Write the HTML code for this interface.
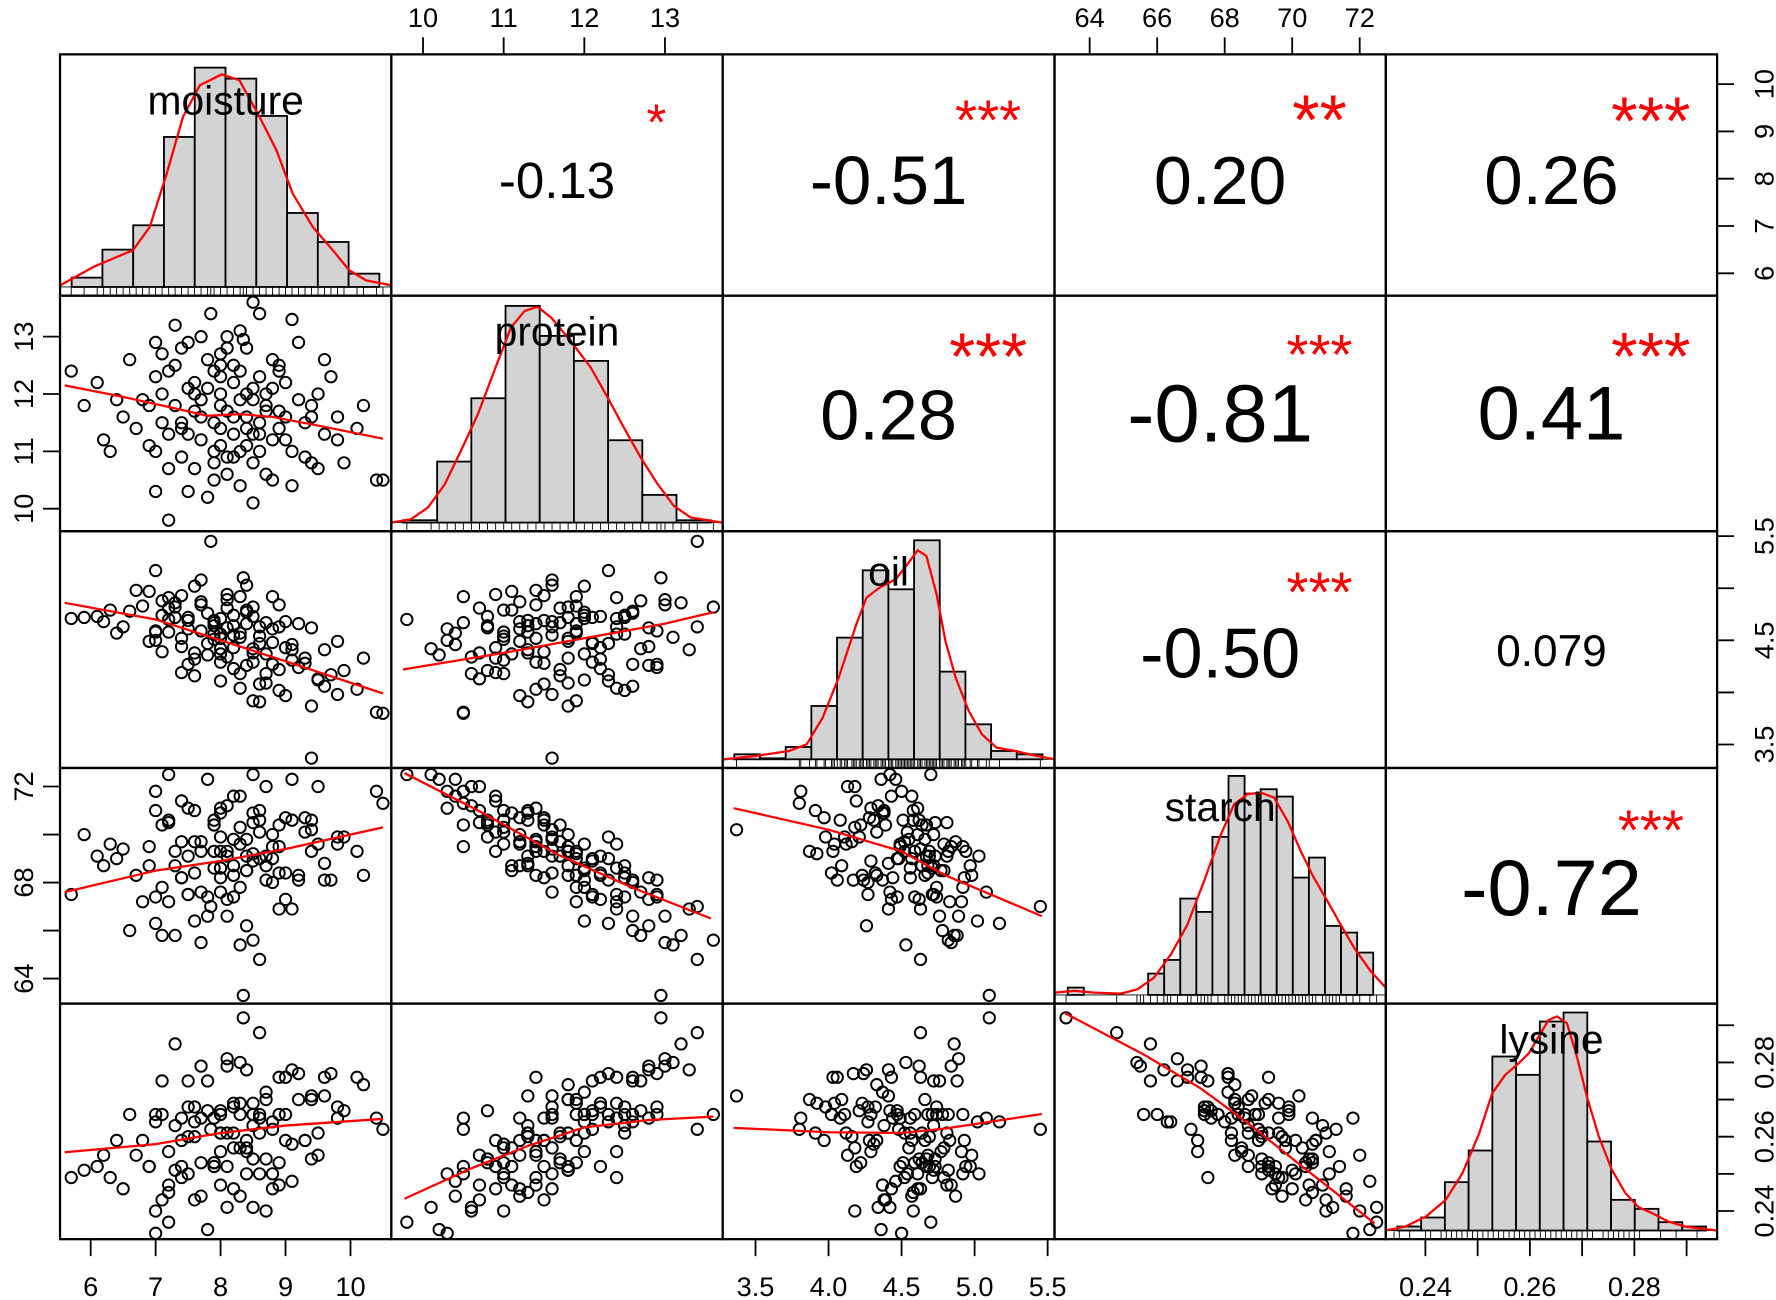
<!DOCTYPE html>
<html><head><meta charset="utf-8"><title>Correlation matrix</title>
<style>html,body{margin:0;padding:0;background:#fff;}svg{display:block;}</style></head>
<body>
<svg id="chart" xmlns="http://www.w3.org/2000/svg" width="1776" height="1300" viewBox="0 0 1568 1147.7" preserveAspectRatio="none" font-family="Liberation Sans, Arial, sans-serif"></svg>
<script>
const varNames=['moisture','protein','oil','starch','lysine'];
const moisture=[8.2,7.5,9.1,6.8,8.8,7.9,8.5,10.1,7.2,8.0,9.5,6.2,8.3,7.7,8.9,7.4,8.6,9.3,5.7,8.1,7.0,8.4,9.8,7.6,8.7,7.3,8.0,9.0,6.5,8.2,7.8,8.5,10.4,7.1,8.8,7.5,9.2,8.1,6.9,8.6,7.9,9.6,7.2,8.3,8.0,9.4,6.1,7.7,8.9,7.4,8.4,9.9,7.0,8.2,8.7,7.6,9.1,6.7,8.0,8.5,7.3,9.7,7.9,8.6,7.1,8.3,9.3,7.8,8.1,6.4,8.8,7.5,9.0,8.4,7.7,8.2,9.5,7.0,8.6,8.0,7.4,9.2,8.5,6.6,8.9,7.6,8.3,10.2,7.9,8.1,7.2,8.7,9.4,7.8,8.4,6.3,8.0,9.0,7.5,8.6,8.2,7.1,9.6,8.8,7.7,8.3,5.9,8.9,7.4,8.1,9.1,7.9,8.5,6.9,8.0,9.8,7.3,8.7,7.6,8.4,8.35,9.4,8.5,10.5,7.2,7.85,7.0];
const protein=[11.6,12.1,11.0,11.9,12.6,10.8,11.3,11.4,12.4,11.8,12.0,11.2,10.4,13.0,11.7,11.5,12.3,10.9,12.4,12.8,11.0,11.1,11.6,12.0,10.6,13.2,11.4,12.2,11.6,12.5,10.2,11.9,10.5,12.7,11.2,11.3,12.9,10.9,11.8,11.5,12.4,11.3,10.7,13.1,11.1,11.8,12.2,11.6,12.5,10.9,12.0,10.8,12.9,11.3,11.7,12.2,10.4,11.4,12.7,10.8,11.8,12.3,11.0,13.4,11.5,11.9,11.5,12.6,10.6,11.9,12.1,10.3,11.2,12.8,11.2,12.2,10.7,12.3,11.0,12.0,12.8,11.9,10.1,12.6,11.4,11.7,12.4,11.8,11.5,13.0,11.3,12.0,10.8,12.1,11.6,11.0,12.3,11.6,12.9,11.3,10.9,12.0,12.6,10.5,11.9,11.0,11.8,12.4,11.4,11.7,13.3,10.5,12.1,11.1,12.5,11.2,12.5,11.8,10.7,11.4,12.95,11.6,13.6,10.5,9.8,13.4,10.3];
const oil=[4.55,4.72,4.31,4.83,4.27,4.64,4.38,4.03,4.91,4.52,4.12,4.68,4.57,4.84,4.22,4.93,4.47,4.33,4.71,4.62,4.58,4.79,3.98,5.02,4.18,4.86,4.29,4.43,4.63,4.74,4.36,3.92,3.81,4.88,4.61,4.69,4.24,4.94,4.49,4.08,4.56,4.41,4.81,4.53,4.37,3.87,4.73,5.08,4.02,4.19,4.77,4.21,4.59,4.64,4.67,4.32,4.46,4.98,4.42,4.73,4.82,4.17,4.51,4.63,4.39,4.92,4.28,4.76,4.34,4.57,4.48,4.61,3.97,4.26,4.87,4.23,4.13,5.17,4.54,4.71,4.44,4.66,4.42,4.78,4.84,4.16,4.04,4.33,4.69,4.89,4.58,4.37,4.62,4.47,5.03,4.79,4.11,4.68,4.27,3.91,4.43,4.74,4.06,4.92,4.59,4.18,4.72,4.63,4.52,4.81,4.41,4.67,4.29,4.97,4.56,4.49,4.72,4.09,4.38,4.66,5.1,3.37,4.82,3.8,4.7,5.45,4.5];
const starch=[69.8,67.5,70.6,67.2,68.0,70.4,70.9,69.3,67.2,69.3,69.6,68.7,71.6,65.5,70.4,68.2,69.0,70.1,67.5,67.3,71.0,68.5,69.9,66.4,72.0,65.8,71.1,67.3,69.4,67.4,72.3,69.2,71.8,65.8,70.0,69.1,68.1,69.3,69.5,70.6,68.6,68.8,70.5,65.4,70.9,69.3,69.1,67.6,68.4,71.4,68.5,69.9,67.4,68.7,69.1,68.4,72.3,68.3,67.6,70.5,69.3,68.1,70.6,64.8,70.4,67.8,70.7,66.6,71.2,69.0,69.0,71.1,70.7,66.2,69.7,68.3,72.0,66.3,70.1,68.6,68.2,68.3,72.5,66.0,69.5,69.7,69.6,68.3,69.3,66.6,70.6,68.1,70.6,67.4,69.1,69.6,69.9,68.4,67.5,71.0,71.6,67.8,68.1,69.5,69.3,70.3,70.0,66.9,69.7,69.1,66.9,70.4,68.9,68.7,68.2,69.6,68.7,68.7,71.0,69.8,63.3,70.2,65.6,71.3,72.5,67.0,71.8];
const lysine=[0.257,0.275,0.258,0.259,0.264,0.253,0.263,0.276,0.256,0.261,0.261,0.255,0.244,0.279,0.253,0.259,0.266,0.259,0.249,0.279,0.240,0.257,0.268,0.264,0.240,0.285,0.256,0.276,0.246,0.268,0.235,0.269,0.265,0.275,0.246,0.260,0.277,0.252,0.252,0.265,0.265,0.271,0.247,0.280,0.247,0.270,0.252,0.265,0.266,0.252,0.256,0.267,0.266,0.261,0.254,0.268,0.248,0.255,0.267,0.254,0.251,0.277,0.253,0.288,0.243,0.266,0.259,0.275,0.241,0.259,0.262,0.250,0.259,0.278,0.244,0.269,0.255,0.264,0.250,0.266,0.265,0.270,0.241,0.266,0.247,0.260,0.269,0.274,0.252,0.281,0.245,0.272,0.254,0.267,0.250,0.249,0.266,0.266,0.268,0.261,0.246,0.266,0.276,0.250,0.253,0.257,0.251,0.276,0.249,0.261,0.278,0.252,0.266,0.252,0.261,0.265,0.263,0.270,0.243,0.259,0.292,0.271,0.266,0.262,0.237,0.262,0.234];
const varLo=[5.528,9.607,3.275,62.958,0.23242];
const varHi=[10.629,13.715,5.547,72.773,0.29584];
const histStart=[5.707,9.751,3.355,63.35,0.23464];
const histWidth=[0.4738,0.4240,0.1758,0.4763,0.004544];
const histMoisture=[28,112,185,450,658,625,513,222,135,40];
const histProtein=[7,183,373,650,560,485,247,83,7];
const histOil=[15,3,37,160,365,567,510,657,263,105,25,15];
const histStarch=[22,0,0,0,0,64,105,289,249,474,657,604,617,595,352,412,207,187,127];
const histLysine=[12,39,145,240,522,467,627,654,267,92,65,25,12];
const densXMoisture=[5.53,6.04,6.40,6.65,6.91,7.17,7.42,7.68,8.02,8.29,8.60,8.86,9.11,9.42,9.73,9.98,10.24,10.63];
const densYMoisture=[5,60,90,110,180,340,510,605,638,620,510,410,280,180,110,50,20,5];
const densXProtein=[9.61,9.85,10.06,10.27,10.47,10.68,10.89,11.09,11.26,11.42,11.59,11.83,12.08,12.29,12.49,12.70,12.91,13.11,13.32,13.71];
const densYProtein=[0,10,45,115,215,325,460,585,635,647,615,545,465,375,285,195,115,50,15,0];
const densXOil=[3.28,3.50,3.73,3.85,3.96,4.07,4.19,4.26,4.35,4.46,4.54,4.61,4.67,4.74,4.80,4.87,4.96,5.05,5.15,5.28,5.37,5.55];
const densYOil=[0,10,25,45,125,245,405,485,515,540,585,627,610,495,355,245,145,75,35,25,15,0];
const densXStarch=[62.96,63.55,64.14,64.93,65.42,65.91,66.41,66.90,67.39,67.89,68.28,68.67,69.07,69.46,69.86,70.25,70.64,71.04,71.43,71.83,72.32,72.77];
const densYStarch=[7,12,7,4,17,52,122,212,342,482,572,602,607,592,522,432,352,282,212,142,72,22];
const densXLysine=[0.2324,0.2362,0.2401,0.2439,0.2471,0.2503,0.2528,0.2553,0.2579,0.2598,0.2617,0.2636,0.2652,0.2671,0.2690,0.2709,0.2732,0.2757,0.2783,0.2808,0.2834,0.2865,0.2897,0.2958];
const densYLysine=[0,12,42,92,172,292,412,467,502,532,582,632,642,622,522,402,282,182,112,70,52,27,12,0];
const smMPx=[5.6,6.5,7.3,7.8,8.3,8.8,9.5,10.5], smMPy=[12.15,11.95,11.75,11.62,11.65,11.6,11.45,11.22];
const smMOx=[5.6,7.0,8.0,9.0,10.5], smMOy=[4.86,4.7,4.5,4.3,3.99];
const smMSx=[5.6,7.0,8.0,9.0,10.5], smMSy=[67.6,68.5,68.9,69.4,70.3];
const smMLx=[5.6,7.0,8.0,9.0,10.5], smMLy=[0.2558,0.2580,0.2610,0.2630,0.2648];
const smPOx=[9.75,11.0,12.0,13.0,13.6], smPOy=[4.22,4.38,4.52,4.66,4.77];
const smPSx=[9.77,10.7,11.67,12.6,13.57], smPSy=[72.56,70.97,69.17,67.78,66.5];
const smPLx=[9.77,10.6,11.3,12.0,12.8,13.6], smPLy=[0.2433,0.2515,0.2575,0.2625,0.2645,0.2654];
const smOSx=[3.35,4.0,4.5,4.8,5.46], smOSy=[71.1,70.2,69.3,68.3,66.6];
const smOLx=[3.35,4.0,4.5,4.8,5.46], smOLy=[0.2624,0.2612,0.2610,0.2622,0.2661];
const smSLx=[63.26,65.61,67.29,68.64,70.32,72.44], smSLy=[0.2933,0.2821,0.2730,0.2640,0.2518,0.2367];
const corrLabels=['-0.13','-0.51','0.20','0.26','0.28','-0.81','0.41','-0.50','0.079','-0.72'];
const corrStars=['*','***','**','***','***','***','***','***','','***'];
const ticksMoisture=[6,7,8,9,10];
const ticksProtein=[10,11,12,13];
const ticksOil=[3.5,4.0,4.5,5.0,5.5];
const labelsOilBottom=['3.5','4.0','4.5','5.0','5.5'];
const labelsOilRight=['3.5','','4.5','','5.5'];
const ticksStarch=[64,66,68,70,72];
const labelsStarchTop=['64','66','68','70','72'];
const labelsStarchLeft=['64','','68','','72'];
const ticksLysine=[0.24,0.25,0.26,0.27,0.28,0.29];
const labelsLysine=['0.24','','0.26','','0.28',''];

const data=[moisture,protein,oil,starch,lysine];
const hists=[histMoisture,histProtein,histOil,histStarch,histLysine];
const densX=[densXMoisture,densXProtein,densXOil,densXStarch,densXLysine];
const densY=[densYMoisture,densYProtein,densYOil,densYStarch,densYLysine];

const colX=[53,345.5,638,931,1223.5,1516];
const rowY=[48,261,469,678,886,1094];
const NS='http://www.w3.org/2000/svg';
const svg=document.getElementById('chart');
function mk(tag,attrs,parent){const e=document.createElementNS(NS,tag);for(const k in attrs)e.setAttribute(k,attrs[k]);(parent||svg).appendChild(e);return e;}
function xs(j,v){return colX[j]+(v-varLo[j])/(varHi[j]-varLo[j])*(colX[j+1]-colX[j]);}
function ys(i,v){return rowY[i+1]-(v-varLo[i])/(varHi[i]-varLo[i])*(rowY[i+1]-rowY[i]);}
const K=1/3.398;

const defs=mk('defs',{});
for(let i=0;i<5;i++)for(let j=0;j<5;j++){
  const cp=mk('clipPath',{id:'c'+i+j},defs);
  mk('rect',{x:colX[j],y:rowY[i],width:colX[j+1]-colX[j],height:rowY[i+1]-rowY[i]},cp);
}

for(let d=0;d<5;d++){
  const g=mk('g',{'clip-path':'url(#c'+d+d+')'});
  
  
  const base=rowY[d+1]-7.65;
  hists[d].forEach((c,k)=>{
    if(c<=0)return;
    const x0=xs(d,histStart[d]+k*histWidth[d]), x1=xs(d,histStart[d]+(k+1)*histWidth[d]);
    const r=mk('rect',{x:x0,y:base-c*K,width:x1-x0,height:c*K,fill:'#d3d3d3',stroke:'#000','stroke-width':1.6},g);
    
    
  });
  let rp='';
  data[d].forEach(v=>{const x=xs(d,v);rp+='M'+x.toFixed(1)+' '+base+'V'+(rowY[d+1]-1);});
  const rug=mk('path',{d:rp,stroke:'#000','stroke-width':0.8,fill:'none'},g);
  
  
  mk('line',{x1:colX[d],x2:colX[d+1],y1:base,y2:base,stroke:'#000','stroke-width':0.8},g);
  const pts=densX[d].map((v,k)=>xs(d,v).toFixed(1)+','+(base-densY[d][k]*K).toFixed(1)).join(' ');
  const dl=mk('polyline',{points:pts,fill:'none',stroke:'#ff0000','stroke-width':2,'stroke-linejoin':'round'},g);
  
  
  const t=mk('text',{x:(colX[d]+colX[d+1])/2,y:[101,305,517,725,930][d],'text-anchor':'middle','font-size':36,fill:'#000'},g);
  t.textContent=varNames[d];
  
  
}

const smooths={'1,0':[smMPx,smMPy],'2,0':[smMOx,smMOy],'3,0':[smMSx,smMSy],'4,0':[smMLx,smMLy],'2,1':[smPOx,smPOy],'3,1':[smPSx,smPSy],'4,1':[smPLx,smPLy],'3,2':[smOSx,smOSy],'4,2':[smOLx,smOLy],'4,3':[smSLx,smSLy]};
for(let i=1;i<5;i++)for(let j=0;j<i;j++){
  const g=mk('g',{'clip-path':'url(#c'+i+j+')'});
  
  
  for(let k=0;k<data[0].length;k++){
    const c=mk('circle',{cx:xs(j,data[j][k]).toFixed(1),cy:ys(i,data[i][k]).toFixed(1),r:5,fill:'none',stroke:'#000','stroke-width':1.7},g);
    
    
  }
  const s=smooths[i+','+j];
  const pts=s[0].map((v,k)=>xs(j,v).toFixed(1)+','+ys(i,s[1][k]).toFixed(1)).join(' ');
  const l=mk('polyline',{points:pts,fill:'none',stroke:'#ff0000','stroke-width':2},g);
  
  
}

const numSize=[45,61,60,61,62,72,67,62,39,70];
const numBase=[175,180,180,180,388,390,388,598,588,808];
const starSize=[45,50,62,60,59,50,60,50,0,50];
const starBase=[123,123,127,127,335,330,335,540,0,750];
let idx=0;
for(let i=0;i<5;i++)for(let j=i+1;j<5;j++){
  const cx=(colX[j]+colX[j+1])/2;
  const t=mk('text',{x:cx,y:numBase[idx],'text-anchor':'middle','font-size':numSize[idx],fill:'#000'});
  t.textContent=corrLabels[idx];
  
  
  if(corrStars[idx]){
    const st=mk('text',{x:colX[j]+0.8*(colX[j+1]-colX[j]),y:starBase[idx],'text-anchor':'middle','font-size':starSize[idx],fill:'#ff0000'});
    st.textContent=corrStars[idx];
    
    
  }
  idx++;
}

for(let i=0;i<5;i++)for(let j=0;j<5;j++){
  const r=mk('rect',{x:colX[j],y:rowY[i],width:colX[j+1]-colX[j],height:rowY[i+1]-rowY[i],fill:'none',stroke:'#000','stroke-width':2});
  
  
}

const TL=15, FS=24;
function axisH(j,ticks,labels,side){
  const g=mk('g',{});
  
  
  const y0=side==='bottom'?rowY[5]:rowY[0], dir=side==='bottom'?1:-1;
  let p='M'+xs(j,ticks[0])+' '+y0+'H'+xs(j,ticks[ticks.length-1]);
  ticks.forEach((v,k)=>{
    const x=xs(j,v);p+='M'+x+' '+y0+'v'+(dir*TL);
    if(labels[k]){const t=mk('text',{x:x,y:side==='bottom'?1144:24,'text-anchor':'middle','font-size':FS,fill:'#000'},g);t.textContent=labels[k];}
  });
  mk('path',{d:p,stroke:'#000','stroke-width':1.6,fill:'none'},g);
}
function axisV(i,ticks,labels,side){
  const g=mk('g',{});
  
  
  const x0=side==='left'?colX[0]:colX[5], dir=side==='left'?-1:1;
  let p='M'+x0+' '+ys(i,ticks[0])+'V'+ys(i,ticks[ticks.length-1]);
  ticks.forEach((v,k)=>{
    const y=ys(i,v);p+='M'+x0+' '+y+'h'+(dir*TL);
    if(labels[k]){const lx=side==='left'?29:1566;const t=mk('text',{x:lx,y:y,'text-anchor':'middle','font-size':FS,fill:'#000',transform:'rotate(-90 '+lx+' '+y+')'},g);t.textContent=labels[k];}
  });
  mk('path',{d:p,stroke:'#000','stroke-width':1.6,fill:'none'},g);
}
axisH(0,ticksMoisture,ticksMoisture.map(String),'bottom');
axisH(2,ticksOil,labelsOilBottom,'bottom');
axisH(4,ticksLysine,labelsLysine,'bottom');
axisH(1,ticksProtein,ticksProtein.map(String),'top');
axisH(3,ticksStarch,labelsStarchTop,'top');
axisV(1,ticksProtein,ticksProtein.map(String),'left');
axisV(3,ticksStarch,labelsStarchLeft,'left');
axisV(0,ticksMoisture,ticksMoisture.map(String),'right');
axisV(2,ticksOil,labelsOilRight,'right');
axisV(4,ticksLysine,labelsLysine,'right');
</script>
</body></html>
